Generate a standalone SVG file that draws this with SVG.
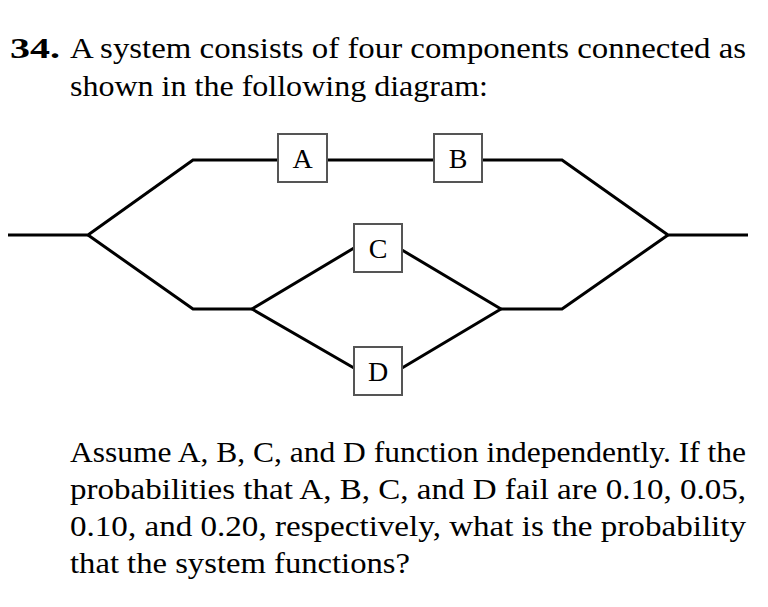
<svg xmlns="http://www.w3.org/2000/svg" width="768" height="607" viewBox="0 0 768 607">
<style>
.t{font-family:"Liberation Serif","Times New Roman",Tinos,Times,serif;font-size:30px;fill:#000}
.b{fill:#fff;stroke:#555;stroke-width:2}
.l{font-family:"Liberation Serif","Times New Roman",Tinos,Times,serif;font-size:28px;text-anchor:middle;fill:#000}
.w{fill:none;stroke:#000;stroke-width:3;stroke-linejoin:miter}
</style>
<rect width="768" height="607" fill="#fff"/>
<text class="t" x="10" y="58" font-weight="bold" textLength="50" lengthAdjust="spacingAndGlyphs">34.</text>
<text class="t" x="70" y="58" textLength="676" lengthAdjust="spacingAndGlyphs">A system consists of four components connected as</text>
<text class="t" x="70" y="96" textLength="418" lengthAdjust="spacingAndGlyphs">shown in the following diagram:</text>
<g id="connectors">
<path class="w" d="M8 235H88L193 160H562L668 235H748"/>
<path class="w" d="M88 235L193 309H252M501 309H562L668 235"/>
<path class="w" d="M252 309L354 248M402 250L501 309M252 309L354 368M402 368L501 309"/>
</g>
<g id="A"><rect class="b" x="278" y="134" width="49" height="48"/><text class="l" x="302.5" y="168">A</text></g>
<g id="B"><rect class="b" x="434" y="134" width="48" height="48"/><text class="l" x="458" y="168">B</text></g>
<g id="C"><rect class="b" x="354" y="224" width="48" height="48"/><text class="l" x="378" y="258">C</text></g>
<g id="D"><rect class="b" x="354" y="347" width="48" height="48"/><text class="l" x="378" y="381">D</text></g>
<text class="t" x="70" y="462" textLength="676" lengthAdjust="spacingAndGlyphs">Assume A, B, C, and D function independently. If the</text>
<text class="t" x="70" y="499" textLength="676" lengthAdjust="spacingAndGlyphs">probabilities that A, B, C, and D fail are 0.10, 0.05,</text>
<text class="t" x="70" y="536" textLength="676" lengthAdjust="spacingAndGlyphs">0.10, and 0.20, respectively, what is the probability</text>
<text class="t" x="70" y="573" textLength="340" lengthAdjust="spacingAndGlyphs">that the system functions?</text>
</svg>
